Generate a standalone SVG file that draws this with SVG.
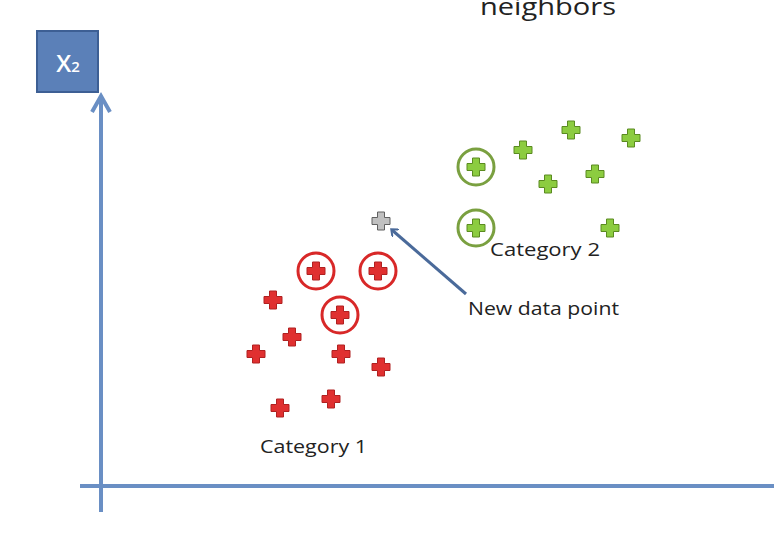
<svg xmlns="http://www.w3.org/2000/svg" width="774" height="550" viewBox="0 0 774 550">
<style>
text{font-family:"Open Sans","Liberation Sans",sans-serif;fill:#222}
.ax{stroke:#6a8fc4;stroke-width:4;fill:none}
.r{fill:#e03030;stroke:#b02020;stroke-width:1}
.g{fill:#8ccc40;stroke:#5a8a20;stroke-width:1}
.gr{fill:#c0c0c0;stroke:#606060;stroke-width:1}
.rc{fill:none;stroke:#d82828;stroke-width:3}
.gc{fill:none;stroke:#7aa040;stroke-width:3}
</style>
<defs>
<path id="p" d="M-3.5,-9H3.5V-3.5H9V3.5H3.5V9H-3.5V3.5H-9V-3.5H-3.5Z"/>
<marker id="ah" markerWidth="10" markerHeight="10" refX="5" refY="5" orient="auto" markerUnits="userSpaceOnUse"><path d="M0,0L6,5L0,10" fill="none" stroke="#4a6a9a" stroke-width="2"/></marker>
</defs>
<rect width="774" height="550" fill="#fff"/>
<text x="480" y="15" font-size="24" textLength="136" lengthAdjust="spacingAndGlyphs">neighbors</text>
<g id="axes">
<line class="ax" x1="101" y1="512" x2="101" y2="98"/>
<path class="ax" d="M92,112L101,96L110,112"/>
<line class="ax" x1="80" y1="486" x2="774" y2="486"/>
</g>
<g id="x2label">
<rect x="37" y="31" width="61" height="61" fill="#5b80b8" stroke="#3d5f94" stroke-width="2"/>
<text x="68" y="72" font-size="24" font-weight="600" style="fill:#fff" text-anchor="middle">X<tspan font-size="15">2</tspan></text>
</g>
<g id="category1">
<circle class="rc" cx="316" cy="271" r="18"/><use href="#p" class="r" x="316" y="271"/>
<circle class="rc" cx="378" cy="271" r="18"/><use href="#p" class="r" x="378" y="271"/>
<circle class="rc" cx="340" cy="315" r="18"/><use href="#p" class="r" x="340" y="315"/>
<use href="#p" class="r" x="273" y="300"/>
<use href="#p" class="r" x="292" y="337"/>
<use href="#p" class="r" x="256" y="354"/>
<use href="#p" class="r" x="341" y="354"/>
<use href="#p" class="r" x="381" y="367"/>
<use href="#p" class="r" x="280" y="408"/>
<use href="#p" class="r" x="331" y="399"/>
<text x="260" y="453" font-size="19" textLength="107" lengthAdjust="spacingAndGlyphs">Category 1</text>
</g>
<g id="category2">
<circle class="gc" cx="476" cy="167" r="18"/><use href="#p" class="g" x="476" y="167"/>
<circle class="gc" cx="476" cy="228" r="18"/><use href="#p" class="g" x="476" y="228"/>
<use href="#p" class="g" x="523" y="150"/>
<use href="#p" class="g" x="571" y="130"/>
<use href="#p" class="g" x="631" y="138"/>
<use href="#p" class="g" x="548" y="184"/>
<use href="#p" class="g" x="595" y="174"/>
<use href="#p" class="g" x="610" y="228"/>
<text x="490" y="256" font-size="19" textLength="110" lengthAdjust="spacingAndGlyphs">Category 2</text>
</g>
<g id="newpoint">
<use href="#p" class="gr" x="381" y="221"/>
<text x="468" y="315" font-size="19" textLength="151" lengthAdjust="spacingAndGlyphs">New data point</text>
</g>
<g id="connectors">
<line x1="466" y1="294" x2="392" y2="230" stroke="#4a6a9a" stroke-width="3" marker-end="url(#ah)"/>
</g>
</svg>
